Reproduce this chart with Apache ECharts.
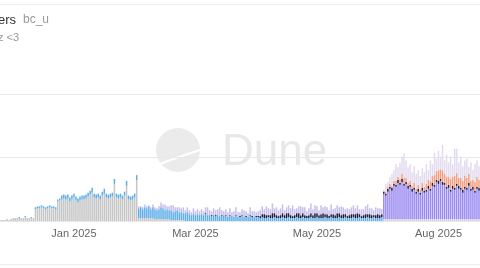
<!DOCTYPE html>
<html>
<head>
<meta charset="utf-8">
<script src="https://cdn.jsdelivr.net/npm/echarts@6/dist/echarts.min.js"></script>
<style>html,body{margin:0;padding:0;background:#fff;}#c{width:480px;height:268px;}</style>
</head>
<body>
<div id="c"></div>
<script>
// ---- data (stacked layers per day) ----
const monthNames = ['Jan','Feb','Mar','Apr','May','Jun','Jul','Aug','Sep','Oct','Nov','Dec'];
const titleText = 'ers';
const titleTag = 'bc_u';
const subtitleText = 'z <3';

const grey = [
1,1,1,2,1,2,
3,3,3,3,3,3,4,3,3,3,3,
12,13,13,14,13,12,13,14,13,13,12,
20,21,
22,23,22,23,20,22,24,21,19,21,22,22,23,25,27,29,24,23,24,22,26,28,24,23,24,25,38,24,23,24,22,26,36,22,21,22,24,42,
3,3,3,3,3,3,3,3,2,2,2,2,2,2,2,2,1,1,1,1,1,1,1,
0,0,0,0,0,0,0,0,0,0,0,0,0,0,0,0,0,0,0,0,0,0,0,0,0,0,0,0,0,0,0,0,0,0,0,0,0,0,0,0,0,0,0,0,0,0,0,0,0,0,
0,0,0,0,0,0,0,0,0,0,0,0,0,0,0,0,0,0,0,0,0,0,0,0,0,0,0,0,0,0,0,0,0,0,0,0,0,0,0,0,0,0,0,0,0,0,0,0,0,0,
0,0,0,0,0,0,0,0,0,0,0,0,0,0,0,0,0,0,0,0,0,0,0,0,0,0,0,0,0,0,0,0,0,0,0,0,0,0,0,0,0,0,0,0,0,0
];
const blue = [
0,0,0,0,0,0,
0,0,0,1,0,0,1,0,0,1,0,
2,2,2,2,2,2,2,2,2,2,2,
2,2,
4,4,4,4,4,4,4,4,4,4,4,4,4,4,4,5,4,4,4,4,4,5,4,4,4,4,5,4,4,4,4,4,5,4,4,4,4,5,
10,11,9,11,10,12,9,11,10,9,
10,12,11,9,10,9,10,8,9,10,8,
8,7,8,9,7,6,7,6,7,6,
7,6,7,6,6,5,6,5,6,5,5,6,5,4,5,5,4,5,4,4,5,4,4,4,5,4,4,4,4,
3,4,3,3,4,3,3,4,3,3,3,4,3,3,4,3,3,3,4,3,3,4,3,3,3,4,3,3,4,3,3,3,4,3,3,4,3,3,3,4,3,3,4,3,3,3,4,3,3,4,3,3,3,4,3,3,4,3,3,3,4,
0,0,0,0,0,0,0,0,0,0,0,0,0,0,0,0,0,0,0,0,0,0,0,0,0,0,0,0,0,0,0,0,0,0,0,0,0,0,0,0,0,0,0,0,0,0,0,0
];
const band = [
0,0,0,0,0,0,0,0,0,0,0,0,0,0,0,0,0,0,0,0,0,0,0,0,0,0,0,0,0,0,0,0,0,0,0,0,0,0,0,0,0,0,0,0,0,0,0,0,0,0,
0,0,0,0,0,0,0,0,0,0,0,0,0,0,0,0,0,0,0,0,0,0,0,0,0,0,0,0,0,0,0,0,0,0,0,0,0,0,0,0,0,0,0,0,0,0,0,0,0,0,
0,0,0,0,0,0,0,0,0,0,0,0,0,0,0,0,0,0,0,0,0,0,0,0,0,0,0,0,0,0,0,0,0,0,0,0,0,0,0,0,0,0,0,0,0,0,0,0,0,0,
0,0,0,0,0,0,0,0,0,0,0,0,0,0,0,0,0,0,0,0,0,0,0,0,0,0,0,0,0,0,0,0,0,0,0,0,0,0,0,
2,2,2,2,2,2,2,2,2,2,2,2,2,2,2,2,2,2,2,2,2,2,2,2,2,2,2,2,2,2,2,2,2,2,2,2,2,2,2,2,2,2,2,2,2,2,2,2
];
const purple = [
0,0,0,0,0,0,0,0,0,0,0,0,0,0,0,0,0,0,0,0,0,0,0,0,0,0,0,0,0,0,0,0,0,0,0,0,0,0,0,0,0,0,0,0,0,0,0,0,0,0,
0,0,0,0,0,0,0,0,0,0,0,0,0,0,0,0,0,0,0,0,0,0,0,0,0,0,0,0,0,0,0,0,0,0,0,0,0,0,0,0,0,0,0,0,0,0,0,0,0,0,
0,0,0,0,0,0,0,0,0,0,0,0,0,0,0,0,0,0,0,0,0,0,0,0,0,0,0,0,0,0,0,0,0,0,0,0,0,0,0,0,0,0,0,0,0,0,0,0,0,0,
0,0,0,0,0,0,0,0,0,0,0,0,0,0,0,0,0,0,0,0,0,0,0,0,0,0,0,0,0,0,0,0,0,0,0,0,0,0,0,
26,24,28,31,29,34,33,37,35,38,34,36,31,33,28,30,26,28,25,29,27,28,31,29,34,33,38,36,39,35,35,31,32,28,31,30,34,31,30,27,31,30,34,29,30,27,31,29
];
const dark = [
0,0,0,0,0,0,0,0,0,0,0,0,0,0,0,0,0,0,0,0,0,0,0,0,0,0,0,0,0,0,0,0,0,0,0,0,0,0,0,0,0,0,0,0,0,0,0,0,0,0,
0,0,0,0,0,0,0,0,0,0,0,0,0,0,0,0,0,0,0,0,0,0,0,0,0,0,0,0,0,0,0,0,0,0,0,0,0,0,0,0,0,0,0,0,0,0,0,0,0,0,
0,1,0,0,1,0,1,0,0,1,0,1,0,1,0,0,1,0,1,1,0,1,0,1,1,0,1,1,
2,3,4,3,2,3,5,4,3,2,3,4,3,5,4,3,2,3,4,5,3,4,3,2,3,4,3,5,4,3,4,5,3,4,2,3,4,3,5,4,3,4,3,2,3,4,3,4,5,3,2,3,4,3,4,3,2,3,4,3,3,
2,2,3,2,3,2,2,3,2,3,2,2,3,2,3,2,2,3,2,3,2,2,3,2,3,2,2,3,2,3,2,2,3,2,3,2,2,3,2,3,2,2,3,2,3,2,2,3
];
const lavender = [
0,0,0,0,0,0,0,0,0,0,0,0,0,0,0,0,0,0,0,0,0,0,0,0,0,0,0,0,0,0,0,0,0,0,0,0,0,0,0,0,0,0,0,0,0,0,0,0,0,0,
0,0,0,0,0,0,0,0,0,0,0,0,0,0,0,0,0,0,
2,1,2,3,2,1,2,3,2,2,
3,5,4,6,3,4,5,7,4,3,5,4,6,3,5,4,3,6,4,5,4,
5,4,6,8,5,4,7,5,6,9,5,4,6,5,7,4,6,8,5,4,6,7,5,4,8,5,6,4,5,
6,8,5,9,7,6,10,5,8,6,7,9,5,6,8,7,11,6,5,7,9,6,8,5,7,10,6,8,7,5,9,6,8,7,6,10,5,7,8,6,9,7,5,8,6,7,9,6,8,5,7,6,8,10,6,7,5,8,6,7,5,
0,0,0,0,0,0,0,0,0,0,0,0,0,0,0,0,0,0,0,0,0,0,0,0,0,0,0,0,0,0,0,0,0,0,0,0,0,0,0,0,0,0,0,0,0,0,0,0
];
const salmon = [
0,0,0,0,0,0,0,0,0,0,0,0,0,0,0,0,0,0,0,0,0,0,0,0,0,0,0,0,0,0,0,0,0,0,0,0,0,0,0,0,0,0,0,0,0,0,0,0,0,0,
0,0,0,0,0,0,0,0,0,0,0,0,0,0,0,0,0,0,0,0,0,0,0,0,0,0,0,0,0,0,0,0,0,0,0,0,0,0,0,0,0,0,0,0,0,0,0,0,0,0,
0,0,0,0,0,0,0,0,0,0,0,0,0,0,0,0,0,0,0,0,0,0,0,0,0,0,0,0,0,0,0,0,0,0,0,0,0,0,0,0,0,0,0,0,0,0,0,0,0,0,
0,0,0,0,0,0,0,0,0,0,0,0,0,0,0,0,0,0,0,0,0,0,0,0,0,0,0,0,0,0,0,0,0,0,0,0,0,0,0,
1,2,2,3,2,3,4,3,4,5,6,4,3,4,3,5,3,4,3,5,4,6,
6,8,7,10,9,11,10,12,9,10,8,11,9,12,11,8,10,9,11,10,9,8,7,9,10,8
];
const pale = [
0,0,0,0,0,0,0,0,0,0,0,0,0,0,0,0,0,0,0,0,0,0,0,0,0,0,0,0,0,0,0,0,0,0,0,0,0,0,0,0,0,0,0,0,0,0,0,0,0,0,
0,0,0,0,0,0,0,0,0,0,0,0,0,0,0,0,0,0,0,0,0,0,0,0,0,0,0,0,0,0,0,0,0,0,0,0,0,0,0,0,0,0,0,0,0,0,0,0,0,0,
0,0,0,0,0,0,0,0,0,0,0,0,0,0,0,0,0,0,0,0,0,0,0,0,0,0,0,0,0,0,0,0,0,0,0,0,0,0,0,0,0,0,0,0,0,0,0,0,0,0,
0,0,0,0,0,0,0,0,0,0,0,0,0,0,0,0,0,0,0,0,0,0,0,0,0,0,0,0,0,0,0,0,0,0,0,0,0,0,0,
1,8,5,7,12,11,17,10,17,18,25,18,16,17,14,17,15,15,14,15,15,20,10,21,12,23,13,20,13,26,14,23,15,23,13,28,25,16,22,15,16,20,7,19,10,18,17,14
];

// categories: day dates (the source axis skips days in the later part)
const N = grey.length;
const categories = [];
const t0 = Date.UTC(2024, 10, 26);
for (let i = 0; i < N; i++) {
  const off = i <= 156 ? i : 156 + Math.round((i - 156) * 92 / 60);
  const d = new Date(t0 + off * 86400000);
  categories.push(d.toISOString().slice(0, 10));
}
[blue, band, purple, dark, lavender, salmon, pale].forEach((a, k) => {
  if (a.length !== N) throw new Error('length mismatch series ' + k + ': ' + a.length + ' vs ' + N);
});

const layers = [
  {name: 'grey', data: grey, color: '#c6c6c6'},
  {name: 'blue', data: blue, color: '#5eaee8'},
  {name: 'band', data: band, color: '#d6ccd9'},
  {name: 'purple', data: purple, color: '#9a8af2'},
  {name: 'dark', data: dark, color: '#201c3c'},
  {name: 'lavender', data: lavender, color: '#c7bfec'},
  {name: 'salmon', data: salmon, color: '#f3a080'},
  {name: 'pale', data: pale, color: '#e3dbef'}
];

const chart = echarts.init(document.getElementById('c'), null, {renderer: 'canvas'});
chart.setOption({
  animation: false,
  backgroundColor: '#ffffff',
  grid: {left: 0, right: 0, top: 94, bottom: 47, containLabel: false},
  xAxis: {
    type: 'category',
    data: categories,
    axisLine: {show: false},
    axisTick: {show: false},
    axisLabel: {
      interval: (idx) => idx % 60 === 36,
      formatter: (v) => { const p = v.split('-'); return monthNames[+p[1] - 1] + ' ' + p[0]; },
      color: '#666666',
      fontSize: 11,
      fontFamily: 'Liberation Sans, Arial, sans-serif',
      margin: 7
    }
  },
  yAxis: {
    type: 'value',
    min: 0, max: 130, interval: 65,
    axisLabel: {show: false},
    axisLine: {show: false},
    axisTick: {show: false},
    splitLine: {lineStyle: {color: '#e8e8e8', width: 1}}
  },
  graphic: [
    {type: 'line', z: -10, shape: {x1: 0, y1: 4.5, x2: 480, y2: 4.5}, style: {stroke: '#eeeeee', lineWidth: 1}},
    {type: 'line', z: -10, shape: {x1: 0, y1: 264.5, x2: 480, y2: 264.5}, style: {stroke: '#eeeeee', lineWidth: 1}},
    {type: 'text', style: {text: titleText, x: -2, y: 20, textVerticalAlign: 'middle', font: '13px "Liberation Sans", Arial, sans-serif', fill: '#333333'}},
    {type: 'text', style: {text: titleTag, x: 23, y: 20, textVerticalAlign: 'middle', font: '12px "Liberation Sans", Arial, sans-serif', fill: '#999999'}},
    {type: 'text', style: {text: subtitleText, x: -2, y: 38, textVerticalAlign: 'middle', font: '11px "Liberation Sans", Arial, sans-serif', fill: '#999999'}},
    {type: 'circle', z: -5, shape: {cx: 178, cy: 150, r: 22}, style: {fill: '#ebebeb'}},
    {type: 'bezierCurve', z: -4, shape: {x1: 160, y1: 164, cpx1: 175, cpy1: 158, x2: 200, y2: 150}, style: {stroke: '#ffffff', lineWidth: 2, fill: null}},
    {type: 'text', z: -5, style: {text: 'Dune', x: 222, y: 153, textVerticalAlign: 'middle', font: '44px "Liberation Sans", Arial, sans-serif', fill: '#e8e8e8'}}
  ],
  series: layers.map(l => ({
    name: l.name,
    type: 'bar',
    stack: 'total',
    data: l.data,
    barCategoryGap: '25%',
    itemStyle: {color: l.color},
    emphasis: {disabled: true}
  }))
});
</script>
</body>
</html>
